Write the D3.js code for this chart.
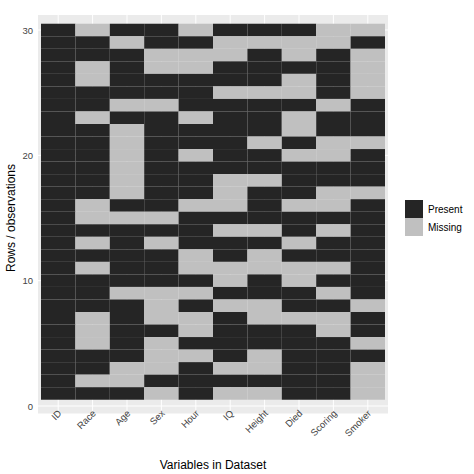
<!DOCTYPE html><html><head><script src="https://cdn.jsdelivr.net/npm/d3@7"></script>
<style>body{margin:0;background:#fff}text{font-family:"Liberation Sans",Arial,sans-serif}</style></head><body>
<svg id="c" width="474" height="474"></svg>
<script>
const variables=["ID","Race","Age","Sex","Hour","IQ","Height","Died","Scoring","Smoker"];
// rows 30 down to 1; 1 = missing
const rowsMissing=[
"0100100011","0010011110","0001110101","0101100001","0100000101",
"0000011101","0011000010","0100100100","0010000100","0010001011",
"0010100110","0010000000","0010011000","0010010011","0100110110",
"0111000000","0000011010","0101000100","0000101000","0100111110",
"0000010100","0011100010","0001011001","0101101110","0100100010",
"0101000001","0001101000","0011011001","0110000001","0001011001"];
const yTicks=[0,10,20,30];
const legendLabels=["Present","Missing"];
const colors=["#252525","#c0c0c0"];
const svg=d3.select("#c");
const x=d3.scaleBand().domain(variables).range([41,385]);
const y=d3.scaleLinear().domain([0,30]).range([406,30]);
svg.append("rect").attr("x",38).attr("y",y(31.2)).attr("width",350).attr("height",y(-0.6)-y(31.2)).attr("fill","#ebebeb");
const g=svg.append("g");
yTicks.forEach(t=>g.append("line").attr("x1",38).attr("x2",388).attr("y1",y(t)).attr("y2",y(t)).attr("stroke","#fff"));
variables.forEach(v=>g.append("line").attr("x1",x(v)+x.bandwidth()/2).attr("x2",x(v)+x.bandwidth()/2).attr("y1",y(31.2)).attr("y2",y(-0.6)).attr("stroke","#fff"));
const cells=[];
rowsMissing.forEach((s,i)=>{const r=30-i;[...s].forEach((c,j)=>cells.push({r,v:variables[j],m:+c}));});
svg.selectAll(".cell").data(cells).join("rect").attr("x",d=>x(d.v)).attr("width",x.bandwidth())
 .attr("y",d=>y(d.r+0.5)).attr("height",d=>y(d.r-0.5)-y(d.r+0.5)).attr("fill",d=>colors[d.m]);
svg.append("g").selectAll("text").data(yTicks).join("text").attr("x",33).attr("y",d=>y(d)+3.5)
 .attr("text-anchor","end").attr("font-size",9.5).attr("fill","#444").text(d=>d);
svg.append("g").selectAll("text").data(variables).join("text")
 .attr("transform",d=>`translate(${x(d)+x.bandwidth()/2+4},${414}) rotate(-45)`)
 .attr("text-anchor","end").attr("font-size",9.5).attr("fill","#444").text(d=>d);
svg.append("text").attr("x",213).attr("y",469).attr("text-anchor","middle").attr("font-size",12).text("Variables in Dataset");
svg.append("text").attr("transform","translate(15,218) rotate(-90)").attr("text-anchor","middle").attr("font-size",12).text("Rows / observations");
legendLabels.forEach((l,i)=>{
 svg.append("rect").attr("x",405).attr("y",200+i*18).attr("width",18).attr("height",18).attr("fill",colors[i]);
 svg.append("text").attr("x",428).attr("y",213+i*18).attr("font-size",10).text(l);
});
</script></body></html>
